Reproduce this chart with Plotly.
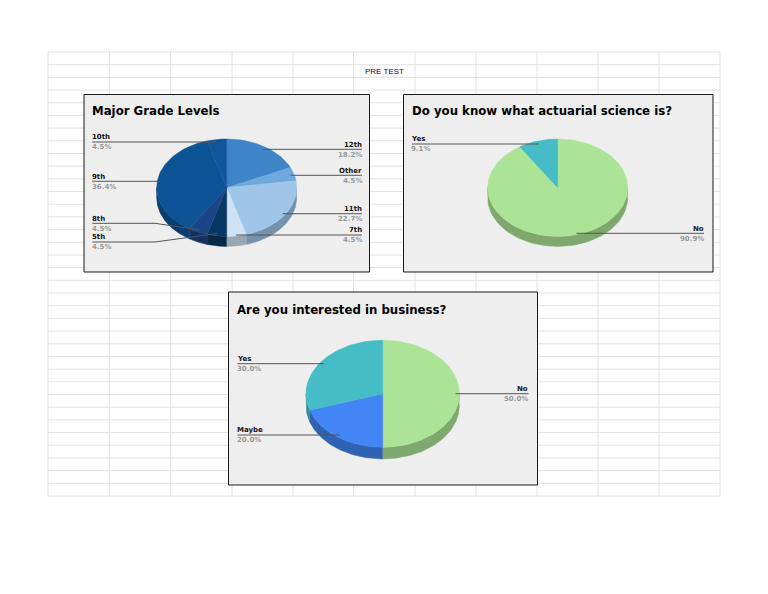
import math
import plotly.graph_objects as go

grade_labels = ["12th", "Other", "11th", "7th", "5th", "8th", "9th", "10th"]
grade_values = [18.2, 4.5, 22.7, 4.5, 4.5, 4.5, 36.4, 4.5]
grade_colors = ["#3d85c6", "#6fa8dc", "#9fc5e8", "#cfe2f3", "#073763", "#1c4587", "#0b5394", "#11569c"]
act_labels = ["No", "Yes"]
act_values = [90.9, 9.1]
act_colors = ["#ace497", "#46bdc6"]
bus_labels = ["No", "Maybe", "Yes"]
bus_values = [50.0, 20.0, 30.0]
bus_colors = ["#ace497", "#4285f4", "#46bdc6"]

FONT = "DejaVu Sans"
fig = go.Figure()
shapes, ann = [], []

def xy(cx, cy, rx, ry, t, r=1.0):
    a = math.radians(t)
    return cx + r * rx * math.sin(a), cy - r * ry * math.cos(a)

def dark(c, f=0.74):
    return "#%02x%02x%02x" % tuple(int(int(c[i:i + 2], 16) * f) for i in (1, 3, 5))

def poly(xs, ys, color):
    fig.add_trace(go.Scatter(x=xs, y=ys, mode="lines", fill="toself", fillcolor=color,
                             line=dict(color=color, width=0.5), hoverinfo="skip", showlegend=False))

def text(x, y, s, anchor, size, color, family=FONT):
    ann.append(dict(x=x, y=y, text=s, xanchor=anchor, yanchor="middle", showarrow=False, borderpad=0,
                    borderwidth=0, font=dict(family=family, size=size, color=color)))

def pie(labels, values, colors, cx, cy, rx, ry, depth, label_y, sides, bends):
    total = sum(values)
    spans, start = [], 0.0
    for v in values:
        spans.append((start, start + v / total * 360))
        start += v / total * 360
    for (a, b), c in zip(spans, colors):
        lo, hi = max(a, 90), min(b, 270)
        if hi > lo:
            ts = [lo + (hi - lo) * i / 60 for i in range(61)]
            pts = [xy(cx, cy, rx, ry, t) for t in ts]
            xs = [p[0] for p in pts] + [p[0] for p in pts[::-1]]
            ys = [p[1] for p in pts] + [p[1] + depth for p in pts[::-1]]
            poly(xs, ys, dark(c))
    for (a, b), c in zip(spans, colors):
        n = max(4, int((b - a) / 2))
        pts = [xy(cx, cy, rx, ry, a + (b - a) * i / n) for i in range(n + 1)]
        poly([cx] + [p[0] for p in pts] + [cx], [cy] + [p[1] for p in pts] + [cy], c)
    for lab, v, (a, b), ly, (side, tx), bend in zip(labels, values, spans, label_y, sides, bends):
        ex, ey = xy(cx, cy, rx, ry, (a + b) / 2, 0.95)
        if bend is not None:
            xs, ys = [ex, bend, tx], [ey, ly, ly]
        else:
            xs, ys = [ex, tx], [ly, ly]
        fig.add_trace(go.Scatter(x=xs, y=ys, mode="lines", line=dict(color="#555555", width=1),
                                 hoverinfo="skip", showlegend=False))
        anchor = "left" if side == "l" else "right"
        tx2 = tx - 0.7 if side == "l" else tx - 0.3
        text(tx2, ly - 4.8, "<b>%s</b>" % lab, anchor, 7, "#111111")
        text(tx2, ly + 5.2, "<b>%.1f%%</b>" % v, anchor, 7, "#999999")

# spreadsheet grid
GX = [48, 109.5, 170.5, 232, 293, 353.5, 415, 476, 537, 598, 659, 720]
for x in GX:
    shapes.append(dict(type="line", x0=x, x1=x, y0=52, y1=496, layer="below", line=dict(color="#e2e2e2", width=1)))
for i in range(36):
    y = 52 + i * 444 / 35
    shapes.append(dict(type="line", x0=48, x1=720, y0=y, y1=y, layer="below", line=dict(color="#e2e2e2", width=1)))

panels = [(84, 94.5, 369.5, 272, 16, "Major Grade Levels"),
          (403.5, 94.5, 713, 272, 16, "Do you know what actuarial science is?"),
          (228.5, 292, 537.5, 485, 17.5, "Are you interested in business?")]
for x0, y0, x1, y1, dy, title in panels:
    shapes.append(dict(type="rect", x0=x0, x1=x1, y0=y0, y1=y1, layer="below", fillcolor="#eeeeee",
                       line=dict(color="#1a1a1a", width=1)))
    text(x0 + 8, y0 + dy, "<b>%s</b>" % title, "left", 11.75, "#000000")

L1, R1 = ("l", 92.3), ("r", 362)
pie(grade_labels, grade_values, grade_colors, 226.7, 187.7, 70, 48.7, 10,
    [149.3, 175.3, 213.7, 235, 242, 223.3, 181.3, 142],
    [R1, R1, R1, R1, L1, L1, L1, L1], [None, None, None, None, 155, 155, None, None])
L2, R2 = ("l", 412), ("r", 704)
pie(act_labels, act_values, act_colors, 557.7, 187.7, 70, 48.7, 10,
    [233.3, 144], [R2, L2], [None, None])
L3, R3 = ("l", 237.5), ("r", 528.5)
pie(bus_labels, bus_values, bus_colors, 382.7, 393.7, 76.7, 53.5, 11.7,
    [393.7, 435, 363.7], [R3, L3, L3], [None, None, None])

text(384, 71, "PRE TEST", "center", 8, "#111111", "Liberation Sans")

fig.update_layout(width=768, height=594, margin=dict(l=0, r=0, t=0, b=0), paper_bgcolor="white",
                  plot_bgcolor="white", shapes=shapes, annotations=ann, showlegend=False,
                  xaxis=dict(range=[0, 768], visible=False, fixedrange=True),
                  yaxis=dict(range=[594, 0], visible=False, fixedrange=True))
fig.write_html("out.html", config=dict(displayModeBar=False),
               post_script="document.body.style.margin='0';document.body.style.overflow='hidden';")
